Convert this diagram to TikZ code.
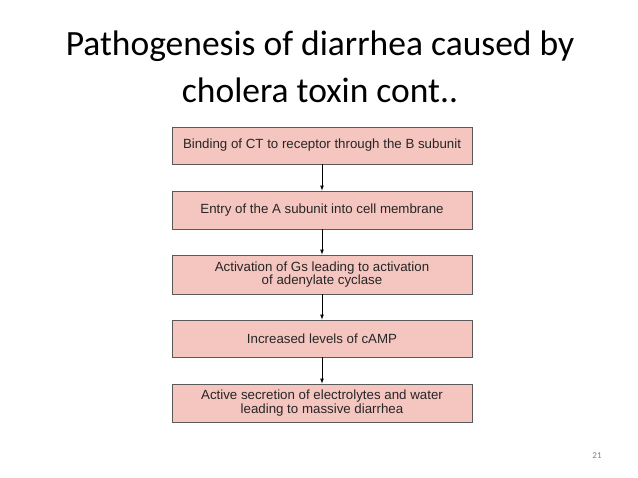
\documentclass[tikz,border=0pt]{standalone}
\usepackage{fontspec}
\setmainfont{Carlito}
\newfontfamily\boxfont{Liberation Sans}
\definecolor{boxfill}{HTML}{F5C6BF}
\definecolor{boxline}{HTML}{5A5A5A}
\begin{document}
\begin{tikzpicture}[x=1pt,y=-1pt,
  stepbox/.style={draw=boxline,line width=0.8pt,fill=boxfill,minimum width=300pt,align=center,font=\boxfont\fontsize{13.3}{13.5}\selectfont,text=black!85,inner sep=0pt},
  flow/.style={-latex,line width=0.7pt,black}]
\useasboundingbox (0,0) rectangle (638,478);
\node[font=\fontsize{35.5}{47}\selectfont,align=center] (title) at (320,67) {Pathogenesis of diarrhea caused by\\cholera toxin cont..};
\node[stepbox,minimum height=37pt] (b1) at (322,145.5) {Binding of CT to receptor through the B subunit};
\node[stepbox,minimum height=38pt] (b2) at (322,210) {Entry of the A subunit into cell membrane};
\node[stepbox,minimum height=39pt] (b3) at (322,274.5) {Activation of Gs leading to activation\\of adenylate cyclase};
\node[stepbox,minimum height=37pt] (b4) at (322,338.5) {Increased levels of cAMP};
\node[stepbox,minimum height=38pt] (b5) at (322,403) {Active secretion of electrolytes and water\\leading to massive diarrhea};
\draw[flow] (b1) -- (b2);
\draw[flow] (b2) -- (b3);
\draw[flow] (b3) -- (b4);
\draw[flow] (b4) -- (b5);
\node[font=\fontsize{9}{10}\selectfont,text=gray] (pg) at (597,456) {21};
\end{tikzpicture}
\end{document}
